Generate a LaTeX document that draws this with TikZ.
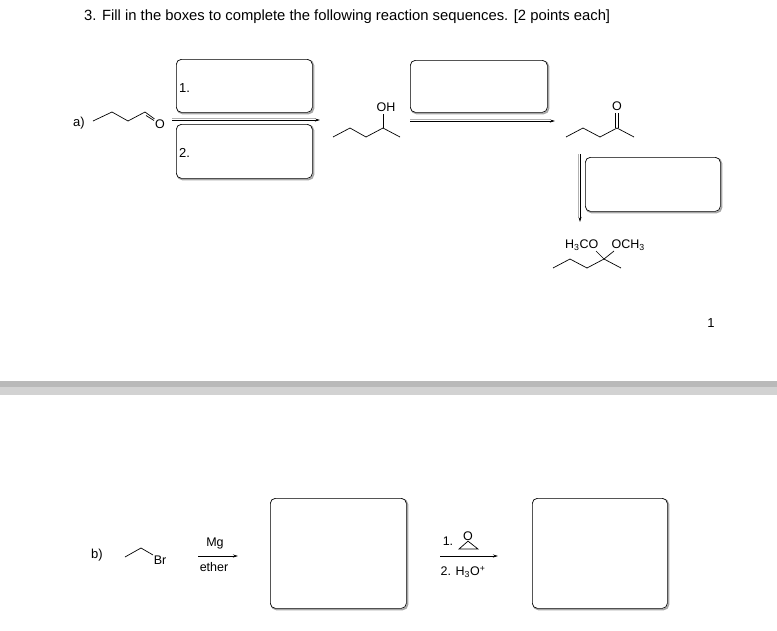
\documentclass[tikz,border=0pt]{standalone}
\usepackage{fontspec}
\setmainfont{Liberation Sans}
\usetikzlibrary{arrows.meta}
\begin{document}
\begin{tikzpicture}[x=1pt,y=-1pt,
  bond/.style={line width=0.7pt},
  rxn/.style={line width=0.8pt,-{Stealth[length=5pt,width=3pt]}},
  ansbox/.style={draw,rounded corners=5pt,line width=0.7pt,fill=white},
  shadow/.style={draw=gray!70,rounded corners=5pt,line width=1.6pt},
  lab/.style={font=\fontsize{13}{14}\selectfont,inner sep=0pt},
  atom/.style={font=\fontsize{12.5}{13}\selectfont,inner sep=0.5pt}]
\useasboundingbox (0,0) rectangle (777,630);
\node[anchor=west,font=\fontsize{14.8}{16}\selectfont,inner sep=0pt] (title) at (84,17) {3. Fill in the boxes to complete the following reaction sequences. [2 points each]};
% a)
\node[lab] (la) at (79,123) {a)};
\node[atom] (o1) at (160,124) {O};
\draw[bond] (93,121)--(112,112)--(128,121)--(145,112)--(o1.north west);
\draw[bond] (146,115.5)--(154,120.5);
% boxes
\foreach \n/\a/\b/\c/\d in {b1/176/59/312/112,b2/176/124/312/178,b3/410/60/547/112,b4/585/157/720/211}{
  \draw[shadow] (\a+1.5,\b+1.5) rectangle (\c+1.5,\d+1.5);
  \node[ansbox,anchor=north west,minimum width=\c-\a,minimum height=\d-\b] (\n) at (\a,\b) {};
}
\node[lab,anchor=west] (t1) at (179,88) {1.};
\node[lab,anchor=west] (t2) at (179,153) {2.};
\coordinate (a1s) at (172,120); \coordinate (a1e) at (320,120);
\draw[gray!60,line width=1.2pt] (172,118.5)--(315,118.5);
\draw[rxn] (a1s)--(a1e);
% pentan-2-ol
\node[atom] (oh) at (386,107) {OH};
\draw[bond] (333,137)--(350,128)--(366,137)--(383,128)--(400,137);
\draw[bond] (383,128)--(383,114);
\coordinate (a2s) at (410,121); \coordinate (a2e) at (555,121);
\draw[gray!60,line width=1.2pt] (410,119.5)--(550,119.5);
\draw[rxn] (a2s)--(a2e);
% pentan-2-one
\node[atom] (o2) at (617,106) {O};
\draw[bond] (566,137)--(583,128)--(600,137)--(617,128)--(634,137);
\draw[bond] (615.5,128)--(615.5,112.5) (618.5,128)--(618.5,112.5);
\coordinate (a3s) at (580,154); \coordinate (a3e) at (580,222);
\draw[gray!60,line width=1.2pt] (578.5,154)--(578.5,217);
\draw[rxn] (a3s)--(a3e);
% acetal
\node[atom,anchor=east] (meo1) at (599,245) {H\textsubscript{3}CO};
\node[atom,anchor=west] (meo2) at (611,245) {OCH\textsubscript{3}};
\draw[bond] (553,268)--(570,259)--(587,268)--(604,259)--(621,268);
\draw[bond] (604,259)--(596,251) (604,259)--(614,251);
\node[lab] (pg) at (711,323) {1};
% separator
\fill[gray!35] (0,381) rectangle (777,395);
\fill[gray!55] (0,381) rectangle (777,387);
% b)
\node[lab] (lb) at (97,555) {b)};
\node[atom] (br) at (160,560) {Br};
\draw[bond] (125,557)--(141,548)--(br.north west);
\coordinate (b1s) at (198,556); \coordinate (b1e) at (238,556);
\draw[rxn] (b1s)--(b1e);
\node[atom] (mg) at (215,543) {Mg};
\node[atom] (eth) at (214,567) {ether};
\foreach \n/\a/\b/\c/\d in {b5/270/498/406/608,b6/532/498/667/608}{
  \draw[shadow] (\a+1.5,\b+1.5) rectangle (\c+1.5,\d+1.5);
  \node[ansbox,anchor=north west,minimum width=\c-\a,minimum height=\d-\b] (\n) at (\a,\b) {};
}
\coordinate (b2s) at (440,556); \coordinate (b2e) at (498,556);
\draw[rxn] (b2s)--(b2e);
\node[atom] (s1) at (448,541) {1.};
\node[atom] (oe) at (468,536) {O};
\draw[bond] (459,549)--(478,549)--(oe.south)--cycle;
\node[atom] (s2) at (463,572) {2. H\textsubscript{3}O\textsuperscript{+}};
\end{tikzpicture}
\end{document}
